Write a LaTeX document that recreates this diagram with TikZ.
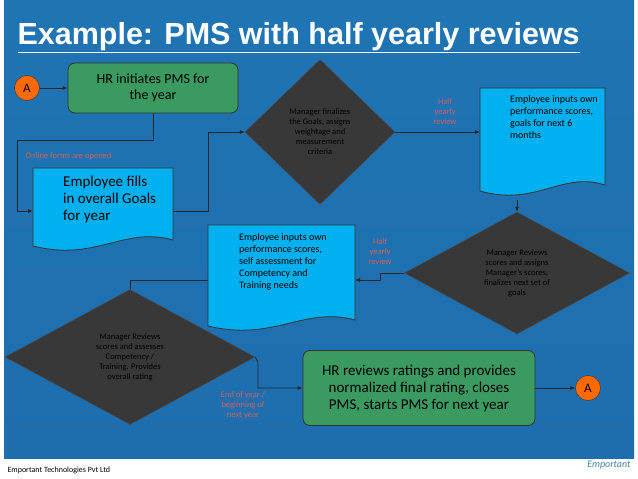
\documentclass[tikz,border=0pt]{standalone}
\usepackage{fontspec}
\setmainfont{Carlito}
\newfontfamily\titlefont{Liberation Sans}
\usetikzlibrary{shapes.geometric,arrows.meta}
\definecolor{docblue}{HTML}{00B0F0}
\definecolor{hrgreen}{HTML}{3A9A60}
\definecolor{dia}{HTML}{383838}
\definecolor{lab}{HTML}{D0605A}
\definecolor{orng}{HTML}{FF6A00}
\definecolor{bgtop}{HTML}{1F74B4}
\definecolor{bgmid}{HTML}{3CA2D8}
\definecolor{bgbot}{HTML}{1E6EAE}
\tikzset{
 conn/.style={draw=black!85,line width=0.8pt,-{Latex[length=5pt,width=4pt]}},
 plain/.style={draw=black!85,line width=0.8pt},
 hrbox/.style={draw=black!80,line width=0.8pt,fill=hrgreen,rounded corners=7pt,align=center,text=black},
 docn/.style={align=left,text=black,inner sep=0pt},
 dianode/.style={diamond,draw=black!70,fill=dia,align=center,text=black,font=\fontsize{8.5}{10}\selectfont,inner sep=0pt},
 lbl/.style={text=lab,align=center,font=\fontsize{8.5}{10}\selectfont},
 circ/.style={circle,draw=black!80,fill=orng,minimum size=25pt,inner sep=0pt,font=\fontsize{13}{14}\selectfont},
 docshape/.style={draw=black!80,line width=0.8pt,fill=docblue}
}
\newcommand{\docpath}[4]{%
 \path[docshape] (#1,#2) -- (#3,#2) -- (#3,#4)
  .. controls ({#3-0.35*(#3-#1)},{#4-14}) and ({#1+0.45*(#3-#1)},{#4+22}) .. (#1,{#4+6}) -- cycle;}
\begin{document}
\begin{tikzpicture}[x=1pt,y=-1pt]
\useasboundingbox (0,0) rectangle (638,479);
\fill[white] (0,0) rectangle (638,479);
\shade[top color=bgtop,middle color=bgmid,bottom color=bgbot] (4,0) rectangle (634,458);
\node[anchor=west,text=white,font=\titlefont\bfseries\fontsize{30.5}{32}\selectfont] (title) at (14,38) {\underline{Example: PMS with half yearly reviews}};
\node[anchor=west,font=\fontsize{8}{9}\selectfont] (foot) at (4,470) {Emportant Technologies Pvt Ltd};
\node[anchor=east,text=cyan!60!black,font=\itshape\fontsize{10}{10}\selectfont] (logo) at (634,465) {Emportant};

\node[circ] (a1) at (27,88) {A};
\node[hrbox,minimum width=170pt,minimum height=50pt,font=\fontsize{14}{16}\selectfont] (hr1) at (153,88) {HR initiates PMS for\\the year};
\draw[conn] (a1) -- (hr1);

\docpath{33}{168}{173}{240}
\node[docn,font=\fontsize{15}{17}\selectfont,anchor=north west] (doc1) at (63,176) {Employee fills\\in overall Goals\\for year};
\coordinate (doc1l) at (33,211);
\coordinate (doc1r) at (173,211);
\draw[conn] (hr1.south) -- (153,140) -- (17,140) -- (17,211) -- (doc1l);
\node[lbl,anchor=west] (l1) at (22,156) {Online forms are opened};

\node[dianode,minimum width=150pt,minimum height=145pt] (d1) at (320,132) {Manager finalizes\\the Goals, assigns\\weightage and\\measurement\\criteria};
\draw[conn] (doc1r) -- (208,211) -- (208,132) -- (d1.west);

\docpath{480}{88}{605}{185}
\node[docn,font=\fontsize{10}{12}\selectfont,anchor=north west] (doc2) at (510,95) {Employee inputs own\\performance scores,\\goals for next 6\\months};
\coordinate (doc2l) at (480,132);
\coordinate (doc2b) at (517,200);
\draw[conn] (d1.east) -- (doc2l);
\node[lbl] (l2) at (445,112) {Half\\yearly\\review};

\node[dianode,minimum width=225pt,minimum height=122pt] (d2) at (517,273) {Manager Reviews\\scores and assigns\\Manager's scores,\\finalizes next set of\\goals};
\draw[conn] (doc2b) -- (d2.north);

\docpath{208}{225}{355}{320}
\node[docn,font=\fontsize{10}{12}\selectfont,anchor=north west] (doc3) at (239,233) {Employee inputs own\\performance scores,\\self assessment for\\Competency and\\Training needs};
\coordinate (doc3r) at (355,280);
\coordinate (doc3l) at (208,280);
\draw[conn] (d2.west) -- (380,273) -- (380,280) -- (doc3r);
\node[lbl] (l3) at (380,252) {Half\\yearly\\review};

\node[dianode,minimum width=250pt,minimum height=135pt] (d3) at (130,357) {Manager Reviews\\scores and assesses\\Competency /\\Training. Provides\\overall rating};
\draw[plain] (doc3l) -- (130,280) -- (d3.north);

\node[hrbox,minimum width=232pt,minimum height=75pt,font=\fontsize{15}{17}\selectfont] (hr2) at (419,388) {HR reviews ratings and provides\\normalized final rating, closes\\PMS, starts PMS for next year};
\draw[conn] (d3.east) -- (258,362) -- (258,388) -- (hr2.west);
\node[lbl] (l4) at (243,405) {End of year /\\beginning of\\next year};

\node[circ] (a2) at (588,388) {A};
\draw[conn] (hr2) -- (a2);
\end{tikzpicture}
\end{document}
